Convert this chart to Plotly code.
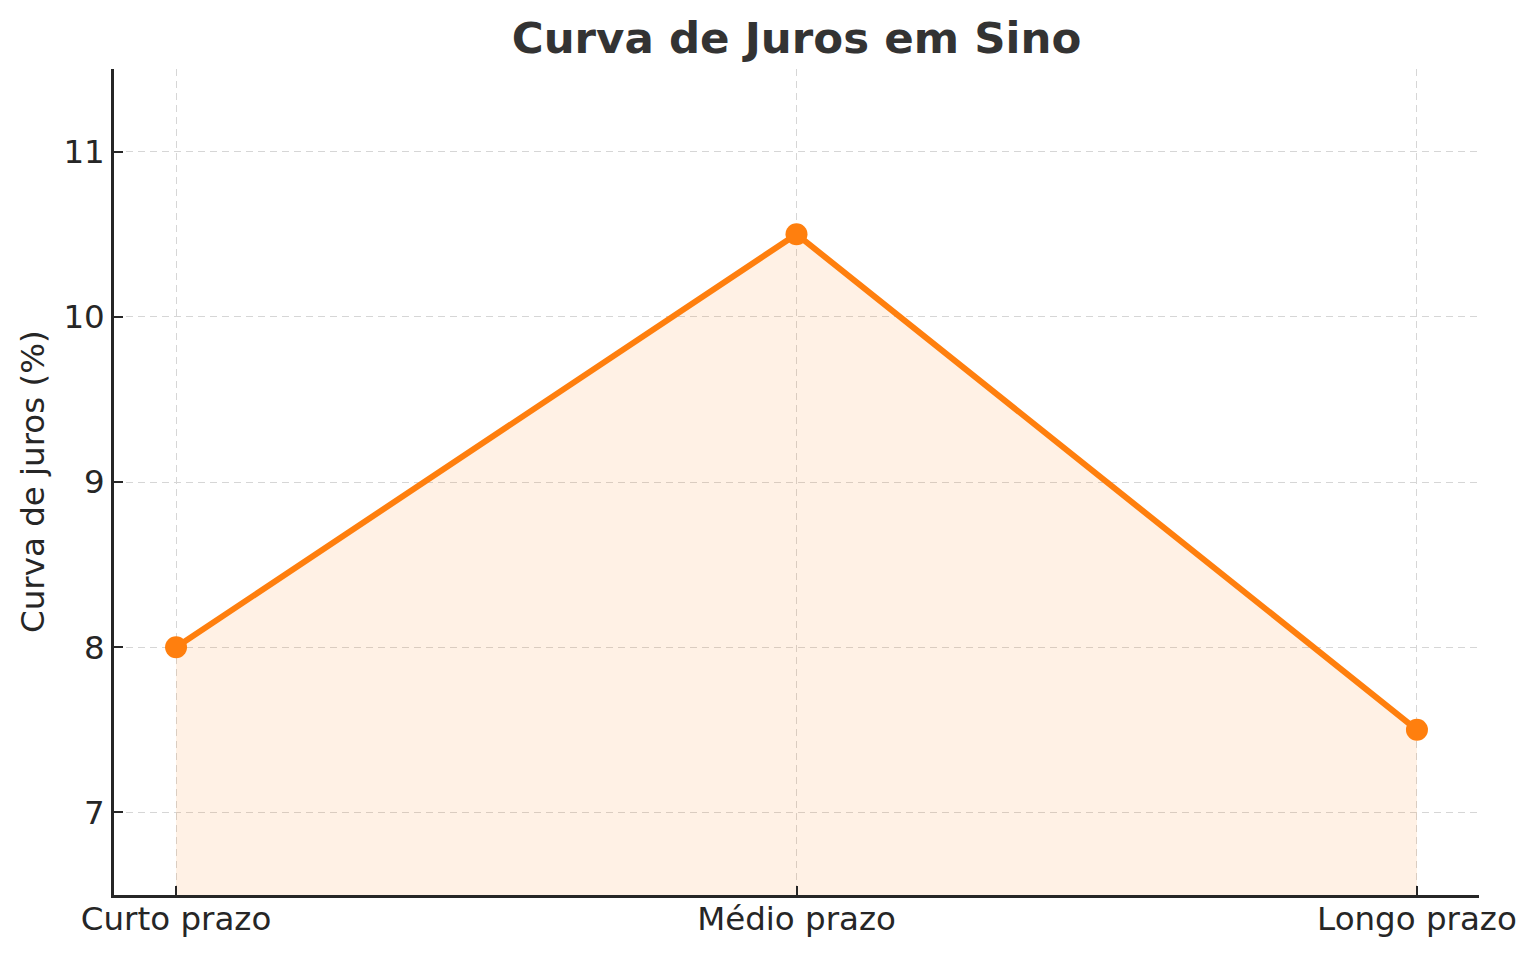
import plotly.graph_objects as go

categories = ["Curto prazo", "Médio prazo", "Longo prazo"]
rates = [8.0, 10.5, 7.5]
y_ticks = [7, 8, 9, 10, 11]

ORANGE = "#ff7f0e"
FONT = "DejaVu Sans"

fig = go.Figure()
fig.add_trace(go.Scatter(
    x=categories, y=rates, mode="lines+markers",
    line=dict(color=ORANGE, width=6),
    marker=dict(color=ORANGE, size=22),
    fill="tozeroy", fillcolor="rgba(255,127,14,0.11)",
    showlegend=False, hoverinfo="x+y",
))

axis_common = dict(
    showline=True, linecolor="#262626", linewidth=2.5,
    ticks="inside", ticklen=9, tickwidth=2, tickcolor="#262626",
    showgrid=True, gridcolor="#d6d6d6", griddash="7px,5px", gridwidth=1.2,
    zeroline=False, mirror=False,
    tickfont=dict(family=FONT, size=32.5, color="#262626"),
)

fig.update_xaxes(type="category", range=[-0.1, 2.1], ticklabelstandoff=-7, **axis_common)
fig.update_yaxes(range=[6.5, 11.5], tickvals=y_ticks, **axis_common)

fig.update_layout(
    width=1536, height=958,
    margin=dict(l=114, r=57, t=69, b=63),
    paper_bgcolor="white", plot_bgcolor="white",
    title=dict(text="<b>Curva de Juros em Sino</b>", x=0.5, xanchor="center", xref="paper",
               y=1 - 38 / 958, yanchor="middle", yref="container",
               font=dict(family=FONT, size=43.5, color="#333333")),
    font=dict(family=FONT),
    annotations=[dict(
        text="Curva de juros (%)", textangle=-90,
        xref="paper", yref="paper", x=(33 - 114) / 1365, y=0.5,
        xanchor="center", yanchor="middle", showarrow=False,
        font=dict(family=FONT, size=32.5, color="#262626"),
    )],
)

fig.write_html("out.html")
